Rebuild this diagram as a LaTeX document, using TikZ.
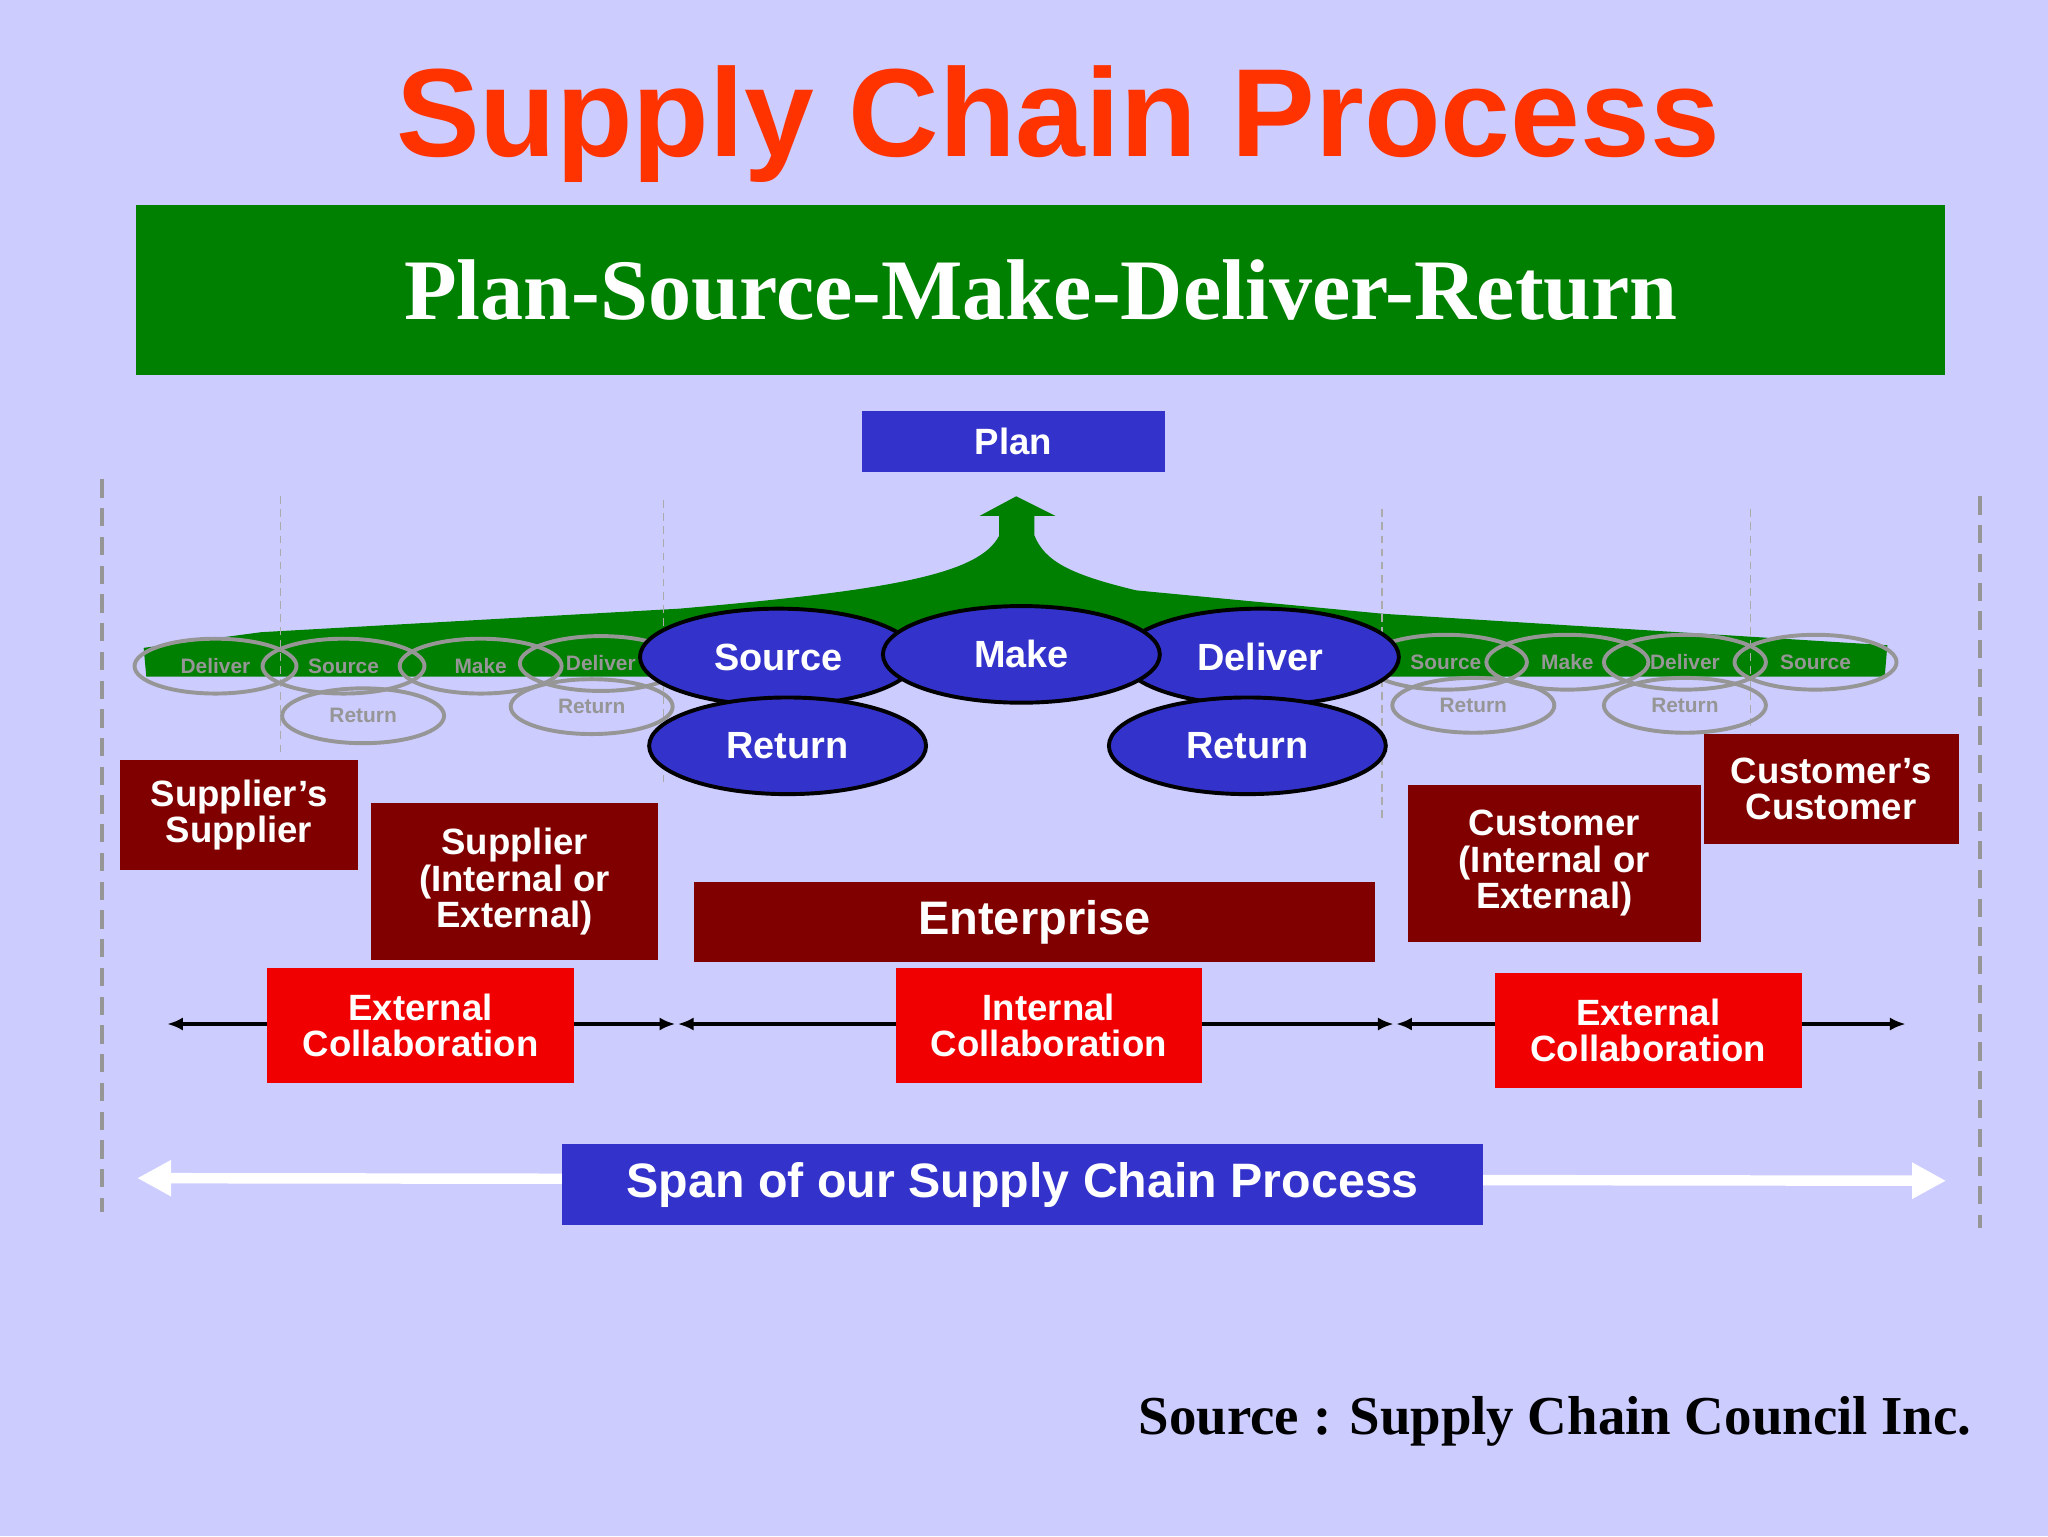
\documentclass[tikz,border=0pt]{standalone}
\usepackage{fontspec}
\setmainfont{Liberation Sans}
\newfontfamily\seriff{Liberation Serif}
\usetikzlibrary{arrows.meta,shapes.geometric}
\definecolor{bg}{RGB}{204,204,255}
\definecolor{ttl}{RGB}{255,51,0}
\definecolor{grn}{RGB}{0,128,0}
\definecolor{blu}{RGB}{51,51,204}
\definecolor{dred}{RGB}{128,0,0}
\definecolor{rred}{RGB}{240,0,0}
\definecolor{gry}{RGB}{150,150,150}
\begin{document}
\begin{tikzpicture}[x=1pt,y=-1pt,
  fs/.style={font=\fontsize{#1}{#1}\selectfont\bfseries},
  box/.style={fill=#1,text=white,inner sep=0pt,align=center},
  sm/.style={draw=gry,line width=3pt,ellipse,minimum width=124pt,minimum height=42pt,inner sep=0pt,text=gry,fs=16},
  big/.style={draw=black,line width=3pt,fill=blu,ellipse,minimum width=212pt,minimum height=74pt,inner sep=0pt,text=white,fs=29},
  vd/.style={draw=gry,dash pattern=on 14pt off 8pt,line width=3pt},
  vt/.style={draw=gry!80,dash pattern=on 6pt off 4pt,line width=1pt},
  ba/.style={{Latex[length=12pt,width=10pt]}-{Latex[length=12pt,width=10pt]},line width=2.5pt}]
\fill[bg] (0,0) rectangle (1568,1176);
\useasboundingbox (0,0) rectangle (1568,1176);
\node[text=ttl,fs=96] (title) at (810,95) {Supply Chain Process};
\node[box=grn,minimum width=1385pt,minimum height=130pt] (psm) at (797,222) {\seriff\fontsize{66}{70}\selectfont\bfseries Plan-Source-Make-Deliver-Return};
\node[box=blu,minimum width=232pt,minimum height=47pt,fs=28] (plan) at (776,338) {Plan};
% green shape
\fill[grn] (778,380) -- (808,395) -- (792,395) -- (792,410) .. controls (800,430) and (820,440) .. (870,452)
 -- (1060,470) -- (1445,494) -- (1443,518) -- (112,518) -- (110,496) -- (200,484) -- (520,466)
 .. controls (680,452) and (750,440) .. (765,410) -- (765,395) -- (750,395) -- cycle;
% dashed lines
\draw[vd] (78,367) -- (78,928);
\draw[vd] (1516,380) -- (1516,940);
\draw[vt] (215,380) -- (215,580);
\draw[vt] (508,383) -- (508,600);
\draw[vt] (1058,390) -- (1058,628);
\draw[vt] (1340,390) -- (1340,560);
% small ellipses
\node[sm] (d1) at (165,510) {Deliver};
\node[sm] (s1) at (263,510) {Source};
\node[sm] (m1) at (368,510) {Make};
\node[sm] (d2) at (460,508) {Deliver};
\node[sm] (r1) at (278,548) {Return};
\node[sm] (r2) at (453,541) {Return};
\node[sm] (s2) at (1107,507) {Source};
\node[sm] (m2) at (1200,507) {Make};
\node[sm] (d3) at (1290,507) {Deliver};
\node[sm] (s3) at (1390,507) {Source};
\node[sm] (r3) at (1128,540) {Return};
\node[sm] (r4) at (1290,540) {Return};
% big ellipses
\node[big] (bs) at (596,503) {Source};
\node[big] (bd) at (965,503) {Deliver};
\node[big] (bm) at (782,501) {Make};
\node[big] (br1) at (603,571) {Return};
\node[big] (br2) at (955,571) {Return};
% dark red boxes
\node[box=dred,minimum width=182pt,minimum height=84pt,fs=28] (ss) at (183,624) {Supplier’s\\Supplier};
\node[box=dred,minimum width=220pt,minimum height=120pt,fs=28] (sup) at (394,675) {Supplier\\(Internal or\\External)};
\node[box=dred,minimum width=522pt,minimum height=61pt,fs=36] (ent) at (792,706) {Enterprise};
\node[box=dred,minimum width=224pt,minimum height=120pt,fs=28] (cus) at (1190,661) {Customer\\(Internal or\\External)};
\node[box=dred,minimum width=195pt,minimum height=84pt,fs=28] (cc) at (1402,604) {Customer’s\\Customer};
% arrows
\coordinate (a1) at (128,784); \coordinate (a2) at (517,784);
\coordinate (a3) at (519,784); \coordinate (a4) at (1067,784);
\coordinate (a5) at (1069,784); \coordinate (a6) at (1459,784);
\draw[ba] (a1) -- (a2);
\draw[ba] (a3) -- (a4);
\draw[ba] (a5) -- (a6);
\node[box=rred,minimum width=235pt,minimum height=88pt,fs=28] (ec1) at (322,785) {External\\Collaboration};
\node[box=rred,minimum width=234pt,minimum height=88pt,fs=28] (ic) at (803,785) {Internal\\Collaboration};
\node[box=rred,minimum width=235pt,minimum height=88pt,fs=28] (ec2) at (1262,789) {External\\Collaboration};
% span
\coordinate (w1) at (105,902); \coordinate (w2) at (1490,904);
\draw[white,line width=8pt,{Triangle[length=26pt,width=26pt]}-{Triangle[length=26pt,width=26pt]}] (w1) -- (w2);
\node[box=blu,minimum width=705pt,minimum height=62pt,fs=37] (span) at (783,907) {Span of our Supply Chain Process};
\node[anchor=east,text=black] (src) at (1513,1088) {\seriff\fontsize{42}{46}\selectfont\bfseries Source : Supply Chain Council Inc.};
\end{tikzpicture}
\end{document}
